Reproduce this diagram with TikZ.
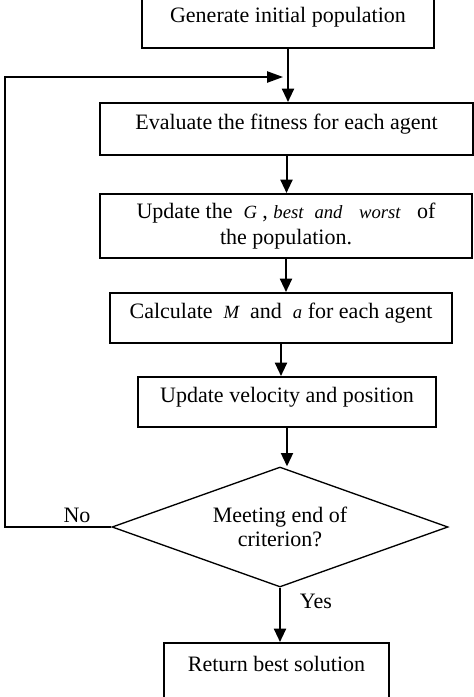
\documentclass[tikz,border=0pt]{standalone}
\usepackage{fontspec}
\setmainfont{Liberation Serif}
\usetikzlibrary{arrows.meta, positioning, shapes.geometric, calc}

\newcommand{\mvar}[1]{{\fontsize{14}{16}\selectfont\itshape #1}}

\begin{document}
\begin{tikzpicture}[
    x=0.75pt, y=-0.75pt,
    box/.style={rectangle, draw=black, line width=1.5pt, inner sep=0pt, align=center, font=\fontsize{16.5}{20}\selectfont, text height=9pt, text depth=9pt},
    decision/.style={diamond, aspect=2.8, draw=black, line width=1pt, inner sep=0pt, align=center, font=\fontsize{16.5}{17.5}\selectfont},
    arr/.style={line width=1.5pt, -{Triangle[length=10pt, width=9pt]}},
    lbl/.style={font=\fontsize{16.5}{18}\selectfont, inner sep=0pt}
]
    \useasboundingbox (0,0) rectangle (474,697);

    \node[box, minimum width=219pt, minimum height=39pt] (init) at (288,22) {Generate initial population};
    \node[box, minimum width=279.75pt, minimum height=39pt] (fitness) at (286.5,129) {Evaluate the fitness for each agent};
    \node[box, minimum width=279pt, minimum height=48pt, text height={}, text depth={}] (update) at (286,226)
        {Update the \ \mvar{G} , \mvar{best}\ \ \mvar{and}\ \ \ \mvar{worst}\ \ \ of\\the population.};
    \node[box, minimum width=256.5pt, minimum height=37.5pt] (calc) at (281,318) {Calculate \ \mvar{M}\ \ and \ \mvar{a} for each agent};
    \node[box, minimum width=223.5pt, minimum height=37.5pt] (velpos) at (287,402) {Update velocity and position};
    \node[decision, minimum width=252pt, minimum height=90pt] (stop) at (280,527) {Meeting end of\\criterion?};
    \node[box, minimum width=168.75pt, minimum height=42.75pt] (best) at (276.5,671.5) {Return best solution};

    \draw[arr] (init.south) -- (init.south |- fitness.north);
    \draw[arr] (fitness.south) -- (fitness.south |- update.north);
    \draw[arr] (update.south) -- (update.south |- calc.north);
    \draw[arr] (calc.south) -- (calc.south |- velpos.north);
    \draw[arr] (velpos.south) -- (velpos.south |- stop.north);
    \draw[arr] (stop.south) -- (stop.south |- best.north);

    % bucle de vuelta
    \coordinate (loopcorner) at (5,77);
    \coordinate (loopend) at (283,77);
    \draw[line width=1.1pt, -{Triangle[length=12pt, width=8.5pt]}] (stop.west) -| (loopcorner) -- (loopend);

    \node[lbl] (nolbl) at (77,515) {No};
    \node[lbl] (yeslbl) at (316,601) {Yes};
\end{tikzpicture}
\end{document}
